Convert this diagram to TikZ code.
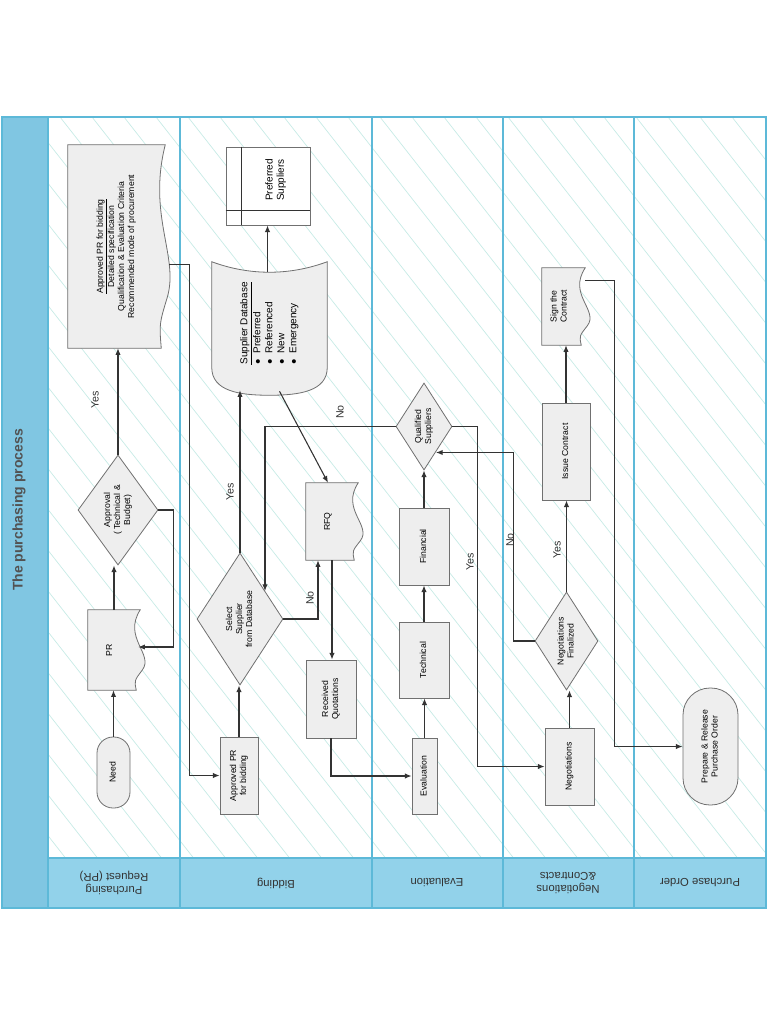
\documentclass[tikz,border=0pt]{standalone}
\usepackage{graphicx}
\usepackage{fontspec}
\setmainfont{Liberation Sans}
\usetikzlibrary{shapes.geometric,arrows.meta,calc}
\definecolor{lane}{HTML}{5DB9D8}
\definecolor{band}{HTML}{92D2EA}
\definecolor{tband}{HTML}{80C6E2}
\definecolor{hatch}{HTML}{C6EBE6}
\definecolor{nfill}{HTML}{EEEEEE}
\definecolor{ink}{HTML}{333333}
\newcommand{\rt}[1]{\rotatebox{90}{\begin{tabular}{@{}c@{}}#1\end{tabular}}}
\newcommand{\rtl}[1]{\rotatebox{90}{\begin{tabular}{@{}l@{}}#1\end{tabular}}}
\begin{document}
\begin{tikzpicture}[x=0.75pt,y=-0.75pt,
  box/.style={draw=ink!70,fill=nfill,line width=0.6pt,inner sep=0pt,font=\fontsize{6.5}{7.5}\selectfont},
  doc/.style={draw=none,inner sep=0pt,font=\fontsize{6.5}{7.5}\selectfont},
  dia/.style={box,diamond,inner sep=0pt},
  dtx/.style={font=\fontsize{6.5}{7.5}\selectfont},
  arr/.style={-{Latex[length=5pt,width=4pt]},draw=ink,line width=0.8pt},
  lab/.style={font=\fontsize{8}{9}\selectfont,text=ink},
  lanelab/.style={font=\fontsize{8.5}{10}\selectfont,text=ink,align=center,rotate=180}]
\useasboundingbox (0,0) rectangle (768,1024);
% lanes background
\fill[white] (2,117) rectangle (766,908);
\begin{scope}
\clip (48,117) rectangle (766,858);
\foreach \s in {-900,-868,...,780} \draw[hatch,line width=0.5pt] (\s,117) -- ++(620,790);
\end{scope}
\fill[tband] (2,117) rectangle (48,908);
\fill[band] (48,858) rectangle (766,908);
\draw[lane,line width=0.8pt] (2,117) rectangle (766,908);
\foreach \x in {48,180,372,503,634} \draw[lane,line width=0.8pt] (\x,117) -- (\x,908);
\draw[lane,line width=0.8pt] (48,858) -- (766,858);
\node[font=\bfseries\fontsize{10.5}{12}\selectfont,text=ink!85,rotate=90] (title) at (19,510) {The purchasing process};
\node[lanelab] (l1) at (114,883) {Purchasing\\Request (PR)};
\node[lanelab] (l2) at (276,883) {Bidding};
\node[lanelab] (l3) at (437,883) {Evaluation};
\node[lanelab] (l4) at (568,883) {Negotiations\\\&Contracts};
\node[lanelab] (l5) at (700,883) {Purchase Order};

% ---- documents (wavy right edge)
\newcommand{\docdraw}[1]{%
 \draw[draw=ink!70,fill=nfill,line width=0.6pt] (#1.north west) -- (#1.north east)
  .. controls ($(#1.north east)!0.35!(#1.south east)+(-18,0)$) and ($(#1.north east)!0.55!(#1.south east)+(14,0)$)
  .. ($(#1.north east)!0.75!(#1.south east)+(2,0)$)
  .. controls ($(#1.north east)!0.88!(#1.south east)+(-6,0)$) .. ($(#1.south east)+(-4,0)$)
  -- (#1.south west) -- cycle;}
\node[doc,minimum width=97*0.75pt,minimum height=203*0.75pt] (apr) at (116.5,246.5) {};
\docdraw{apr}
\node[doc] at (apr) {\rt{\underline{Approved PR for bidding}\\Detailed specification\\Qualification \& Evaluation Criteria\\Recommended mode of procurement}};
\node[doc,minimum width=52*0.75pt,minimum height=80*0.75pt] (pr) at (114,650) {};
\docdraw{pr}
\node[doc] at ($(pr)+(-4,0)$) {\rt{PR}};
\node[doc,minimum width=52*0.75pt,minimum height=77*0.75pt] (rfq) at (332,521.5) {};
\docdraw{rfq}
\node[doc] at ($(rfq)+(-4,0)$) {\rt{RFQ}};
\node[doc,minimum width=43*0.75pt,minimum height=77*0.75pt] (sign) at (563.5,306.5) {};
\docdraw{sign}
\node[doc] at ($(sign)+(-4,0)$) {\rt{Sign the\\Contract}};

% ---- terminals
\node[box,rounded corners=16*0.75pt,minimum width=33*0.75pt,minimum height=71*0.75pt] (need) at (113.5,772.5) {\rt{Need}};
\node[box,rounded corners=27*0.75pt,minimum width=55*0.75pt,minimum height=117*0.75pt] (po) at (710.5,746.5) {\rt{Prepare \& Release\\Purchase Order}};

% ---- diamonds
\node[dia,minimum width=80*0.75pt,minimum height=110*0.75pt] (appr) at (118,510) {};
\node[dtx] at (appr) {\rt{Approval\\( Technical \&\\Budget)}};
\node[dia,minimum width=86*0.75pt,minimum height=132*0.75pt] (sel) at (240,619) {};
\node[dtx] at (sel) {\rt{Select\\Supplier\\from Database}};
\node[dia,minimum width=56*0.75pt,minimum height=87*0.75pt] (qs) at (424,426.5) {};
\node[dtx] at (qs) {\rt{Qualified\\Suppliers}};
\node[dia,minimum width=63*0.75pt,minimum height=98*0.75pt] (nf) at (566.5,641) {};
\node[dtx] at (nf) {\rt{Negotiations\\Finalized}};

% ---- boxes
\node[box,minimum width=38*0.75pt,minimum height=77*0.75pt] (aprb) at (239,775.5) {\rt{Approved PR\\for bidding}};
\node[box,minimum width=50*0.75pt,minimum height=78*0.75pt] (rq) at (331,699) {\rt{Received\\Quotations}};
\node[box,minimum width=25*0.75pt,minimum height=76*0.75pt] (eval) at (424.5,776) {\rt{Evaluation}};
\node[box,minimum width=50*0.75pt,minimum height=76*0.75pt] (tech) at (424,660) {\rt{Technical}};
\node[box,minimum width=50*0.75pt,minimum height=77*0.75pt] (fin) at (424,546.5) {\rt{Financial}};
\node[box,minimum width=48*0.75pt,minimum height=97*0.75pt] (issue) at (566,451.5) {\rt{Issue Contract}};
\node[box,minimum width=49*0.75pt,minimum height=77*0.75pt] (neg) at (569.5,766.5) {\rt{Negotiations}};

% ---- preferred suppliers
\node[box,fill=white,minimum width=84*0.75pt,minimum height=78*0.75pt] (pref) at (268,186) {};
\draw[ink,line width=0.6pt] ($(pref.north west)+(16,0)$) -- ($(pref.south west)+(16,0)$);
\draw[ink,line width=0.6pt] ($(pref.south west)+(0,-15)$) -- ($(pref.south east)+(0,-15)$);
\node[font=\fontsize{7.5}{8.5}\selectfont] at ($(pref)+(8,-6)$) {\rt{Preferred\\Suppliers}};

% ---- supplier database
\node[doc,minimum width=115*0.75pt,minimum height=115*0.75pt] (db) at (269.5,319.5) {};
\draw[draw=ink!70,fill=nfill,line width=0.6pt] (db.north west) .. controls ($(db.north)+(-20,14)$) and ($(db.north)+(20,14)$) .. (db.north east)
  -- ($(db.south east)+(0,-10)$) .. controls ($(db.south east)+(0,14)$) and ($(db.south)+(30,18)$) .. ($(db.south)+(0,18)$)
  .. controls ($(db.south)+(-30,18)$) and ($(db.south west)+(0,14)$) .. ($(db.south west)+(0,-10)$) -- cycle;
\node[font=\fontsize{7.5}{9}\selectfont] at ($(db)+(0,4)$) {\rtl{\underline{Supplier Database}\\$\bullet$\ \ Preferred\\$\bullet$\ \ Referenced\\$\bullet$\ \ New\\$\bullet$\ \ Emergency}};

% ---- connectors
\draw[arr] (need.north) -- (need.north |- pr.south);
\draw[arr] (pr.north) -- (pr.north |- appr.south);
\draw[arr] (appr.north) -- (appr.north |- apr.south);
\draw[arr] (appr.east) -- ++(15,0) |- ($(pr.east)+(-2,-3)$);
\coordinate (a1) at ($(apr.north east)!0.59!(apr.south east)+(4,0)$);
\draw[arr] (a1) -| ($(aprb.west)+(-30,0)$) -- (aprb.west);
\draw[arr] (aprb.north) -- (aprb.north |- sel.south);
\draw[arr] (sel.north) -- ($(sel.north |- db.south)+(0,13)$);
\draw[arr] ($(db.north)+(-2,10)$) -- ($(db.north |- pref.south)+(-2,0)$);
\draw[arr] ($(db.south)+(10,14)$) -- ($(rfq.north)+(-4,0)$);
\draw[arr] (sel.east) -| ($(rfq.south)+(-14,0)$);
\draw[arr] (rfq.south) -- (rfq.south |- rq.north);
\draw[arr] (rq.south) |- (eval.west);
\draw[arr] (eval.north) -- (eval.north |- tech.south);
\draw[arr] (tech.north) -- (tech.north |- fin.south);
\draw[arr] (fin.north) -- (fin.north |- qs.south);
\coordinate (s1) at ($(sel.center)+(25,-28)$);
\draw[arr] (qs.west) -| (s1);
\draw[arr] (qs.east) -| ($(neg.west)+(-67,0)$) -- (neg.west);
\draw[arr] (neg.north) -- (neg.north |- nf.south);
\draw[arr] (nf.north) -- (nf.north |- issue.south);
\draw[arr] (issue.north) -- (issue.north |- sign.south);
\coordinate (q2) at ($(qs.center)+(12,26)$);
\draw[arr] (nf.west) -- ++(-21,0) |- (q2);
\coordinate (c1) at ($(sign.north east)!0.17!(sign.south east)$);
\draw[arr] (c1) -| ($(po.west)+(-68,0)$) -- (po.west);

% ---- labels
\node[lab,rotate=90] (y1) at (95,400) {Yes};
\node[lab,rotate=90] (y2) at (230,492) {Yes};
\node[lab,rotate=90] (n1) at (310,598) {No};
\node[lab,rotate=90] (n2) at (340,412) {No};
\node[lab,rotate=90] (y3) at (470,562) {Yes};
\node[lab,rotate=90] (n3) at (510,540) {No};
\node[lab,rotate=90] (y4) at (557,550) {Yes};
\end{tikzpicture}
\end{document}
